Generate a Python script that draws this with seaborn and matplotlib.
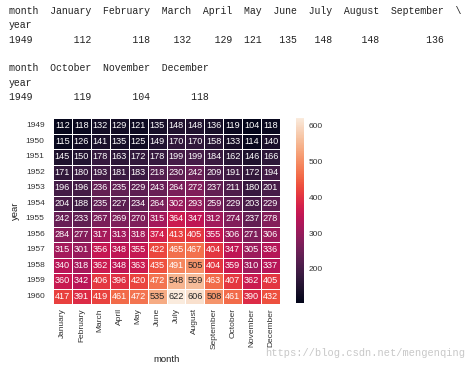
import numpy as np
import pandas as pd
import matplotlib
matplotlib.use("Agg")
import matplotlib.pyplot as plt
import seaborn as sns

# Datos: pasajeros mensuales (flights), año x mes
years = [1949, 1950, 1951, 1952, 1953, 1954, 1955, 1956, 1957, 1958, 1959, 1960]
months = ["January", "February", "March", "April", "May", "June",
          "July", "August", "September", "October", "November", "December"]
passengers = [
    [112, 118, 132, 129, 121, 135, 148, 148, 136, 119, 104, 118],
    [115, 126, 141, 135, 125, 149, 170, 170, 158, 133, 114, 140],
    [145, 150, 178, 163, 172, 178, 199, 199, 184, 162, 146, 166],
    [171, 180, 193, 181, 183, 218, 230, 242, 209, 191, 172, 194],
    [196, 196, 236, 235, 229, 243, 264, 272, 237, 211, 180, 201],
    [204, 188, 235, 227, 234, 264, 302, 293, 259, 229, 203, 229],
    [242, 233, 267, 269, 270, 315, 364, 347, 312, 274, 237, 278],
    [284, 277, 317, 313, 318, 374, 413, 405, 355, 306, 271, 306],
    [315, 301, 356, 348, 355, 422, 465, 467, 404, 347, 305, 336],
    [340, 318, 362, 348, 363, 435, 491, 505, 404, 359, 310, 337],
    [360, 342, 406, 396, 420, 472, 548, 559, 463, 407, 362, 405],
    [417, 391, 419, 461, 472, 535, 622, 606, 508, 461, 390, 432],
]
watermark = "https://blog.csdn.net/mengenqing"

df = pd.DataFrame(passengers, index=pd.Index(years, name="year"),
                  columns=pd.Index(months, name="month"))

sns.set_theme()
plt.rcParams['font.family'] = ['Liberation Sans', 'DejaVu Sans']

fig = plt.figure(figsize=(4.74, 3.67), dpi=100)
fig.patch.set_facecolor("white")

# Texto tipo salida de pandas (primera fila, partida en dos bloques)
row0 = passengers[0]
bloques = [(months[:9], row0[:9], True), (months[9:], row0[9:], False)]
mono = dict(family=["Liberation Mono", "DejaVu Sans Mono"], fontsize=7.1, color="#222222")
y0 = 11
for cols, vals, cont in bloques:
    header = "month  " + "  ".join(cols) + ("  \\" if cont else "")
    widths = [max(len(c), len(str(v))) for c, v in zip(cols, vals)]
    data = "1949   " + "  ".join(str(v).rjust(w) for v, w in zip(vals, widths))
    for i, txt in enumerate([header, "year", data]):
        fig.text(9 / 474, 1 - (y0 + i * 14.5) / 367, txt, va="center", ha="left", **mono)
    y0 += 57

ax = fig.add_axes([53 / 474, 1 - 304 / 367, 227 / 474, 186 / 367])
cax = fig.add_axes([296 / 474, 1 - 303 / 367, 8 / 474, 185 / 367])

sns.heatmap(df, annot=True, fmt="d", linewidths=.5, ax=ax, cbar_ax=cax,
            xticklabels=True, yticklabels=True, annot_kws={"fontsize": 6.6})

ax.set_yticklabels(ax.get_yticklabels(), rotation=0, fontsize=6, color="#333333")
ax.set_xticklabels(ax.get_xticklabels(), rotation=90, fontsize=6, color="#333333")
ax.tick_params(axis="y", length=0, pad=6)
ax.tick_params(axis="x", length=0, pad=3)
ax.set_xlabel("month", fontsize=6.8, color="#222222")
ax.set_ylabel("year", fontsize=6.8, color="#222222")
cax.tick_params(labelsize=6, length=0, labelcolor="#333333")

fig.text(465 / 474, 1 - 353 / 367, watermark, ha="right", va="center",
         family=["Liberation Mono", "DejaVu Sans Mono"], fontsize=7.5, color="#c8c8c8")

fig.savefig("out.png", dpi=100, facecolor="white")
